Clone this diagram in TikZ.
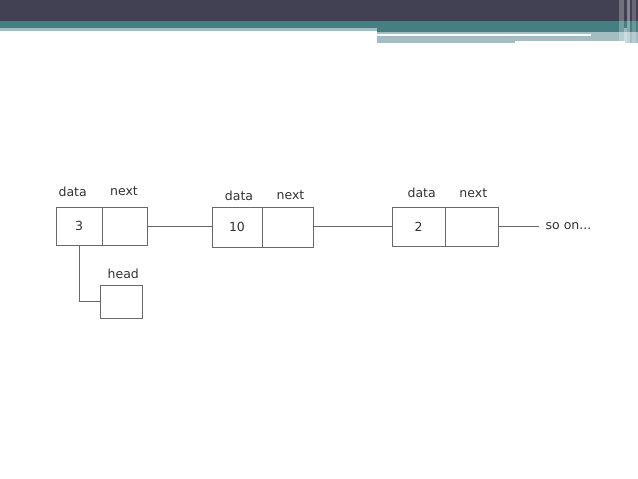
\documentclass[tikz,border=0pt]{standalone}
\usepackage{fontspec}
\setmainfont{DejaVu Sans}
\definecolor{barDark}{RGB}{65,65,83}
\definecolor{barTeal}{RGB}{70,126,130}
\definecolor{barLight}{RGB}{162,190,195}
\definecolor{lineGrey}{RGB}{105,105,105}
\definecolor{txtGrey}{RGB}{50,50,50}
\tikzset{
  cell/.style={draw=lineGrey, line width=0.9pt, rectangle, inner sep=0pt, font=\fontsize{12.5}{14}\selectfont, text=txtGrey},
  lbl/.style={inner sep=0pt, font=\fontsize{12.5}{14}\selectfont, text=txtGrey},
  link/.style={draw=lineGrey, line width=0.9pt},
}
\begin{document}
\begin{tikzpicture}[x=1pt,y=-1pt]
\useasboundingbox (0,0) rectangle (638,479);
\fill[white] (0,0) rectangle (638,479);
% top banner
\fill[barDark] (0,0) rectangle (638,21);
\fill[barTeal] (0,21) rectangle (638,27.5);
\fill[barLight] (0,27.5) rectangle (377,31);
\fill[barTeal] (377,27.5) rectangle (638,32);
\fill[barLight] (377,32) rectangle (638,42.5);
\fill[white] (377,33.5) rectangle (591,35.8);
\fill[white] (515,41) rectangle (625,43);
\fill[white, opacity=0.25] (619,0) rectangle (624,43);
\fill[white, opacity=0.35] (627,0) rectangle (630,43);
\fill[white, opacity=0.2] (632,0) rectangle (636,43);
\fill[white, opacity=0.45] (624,27.5) rectangle (627,43);

% list nodes
\node[cell, minimum width=46pt, minimum height=38pt] (d1) at (79,226) {3};
\node[cell, minimum width=45pt, minimum height=38pt, anchor=west] (n1) at (d1.east) {};
\node[cell, minimum width=50pt, minimum height=40pt] (d2) at (237,227) {10};
\node[cell, minimum width=51pt, minimum height=40pt, anchor=west] (n2) at (d2.east) {};
\node[cell, minimum width=53pt, minimum height=39pt] (d3) at (418.5,226.5) {2};
\node[cell, minimum width=53pt, minimum height=39pt, anchor=west] (n3) at (d3.east) {};
\node[cell, minimum width=42pt, minimum height=33pt] (hd) at (121,301.5) {};

% labels
\node[lbl] (l1a) at (72.7,191.5) {data};
\node[lbl] (l1b) at (124,191.5) {next};
\node[lbl] (l2a) at (239,195.5) {data};
\node[lbl] (l2b) at (290.5,195.5) {next};
\node[lbl] (l3a) at (421.7,193) {data};
\node[lbl] (l3b) at (473.3,193) {next};
\node[lbl] (lh) at (123.3,274) {head};
\node[lbl, anchor=west, inner xsep=6.5pt] (so) at (539,226) {so on...};

% connectors
\draw[link] (n1.east) -- (d2.west |- n1.east);
\draw[link] (n2.east |- 0,226) -- (d3.west |- 0,226);
\draw[link] (n3.east |- so.west) -- (so.west);
\draw[link] (d1.south) |- (hd.west);
\end{tikzpicture}
\end{document}
